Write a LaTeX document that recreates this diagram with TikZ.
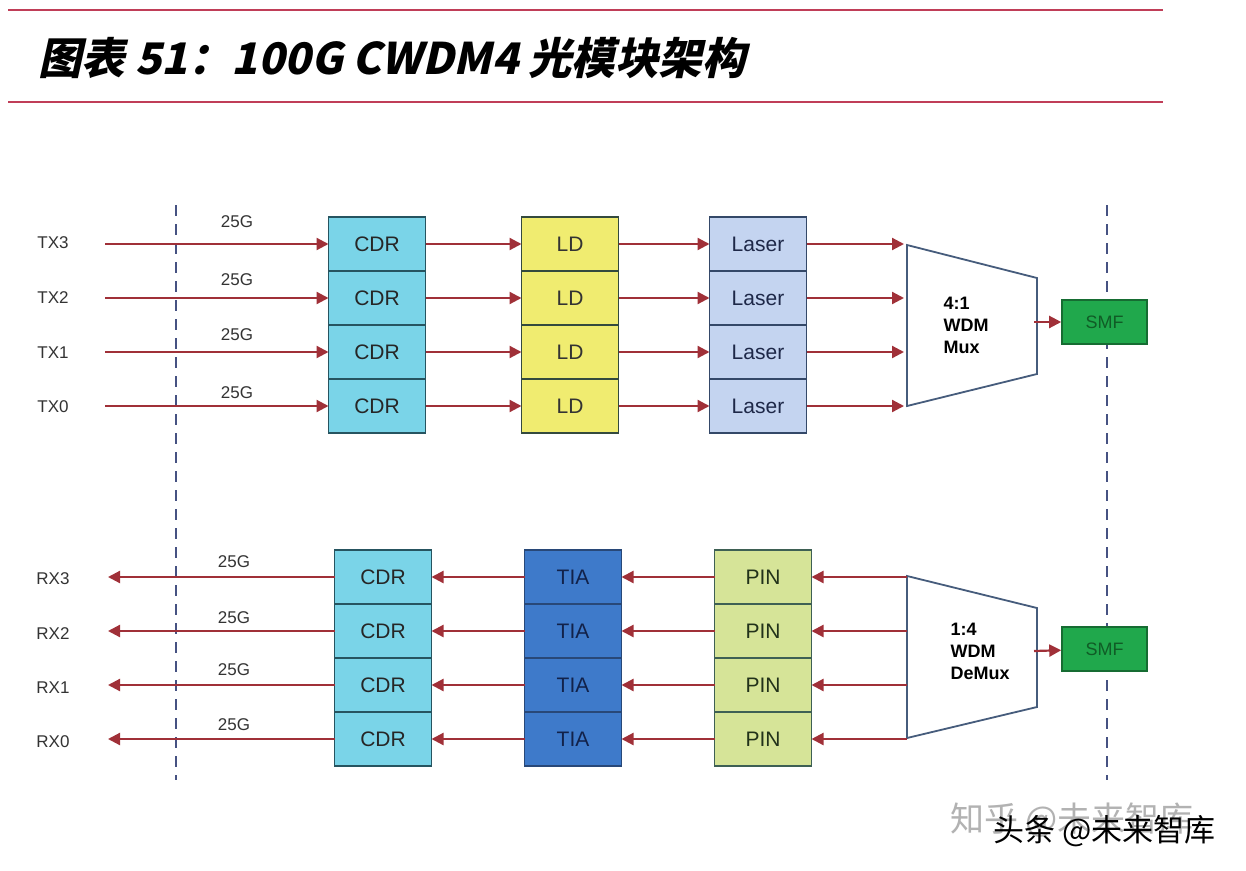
\documentclass[tikz,border=0pt]{standalone}
\usepackage{fontspec}
\setmainfont{Liberation Sans}
\newfontfamily\cjktitle[FakeSlant=0.22]{Noto Sans CJK SC}
\newfontfamily\cjkmark{Noto Sans CJK SC}
\usepackage{xcolor}
\usepackage{tikz}
\usetikzlibrary{arrows.meta,positioning}
\definecolor{sigred}{RGB}{160,48,56}
\definecolor{rulered}{RGB}{192,62,88}
\definecolor{dashblue}{RGB}{70,82,130}
\definecolor{cdrfill}{RGB}{122,212,232}
\definecolor{cdrline}{RGB}{38,84,96}
\definecolor{ldfill}{RGB}{240,236,112}
\definecolor{ldline}{RGB}{52,74,62}
\definecolor{lasfill}{RGB}{196,212,240}
\definecolor{lasline}{RGB}{52,72,104}
\definecolor{tiafill}{RGB}{62,122,202}
\definecolor{tialine}{RGB}{40,72,120}
\definecolor{pinfill}{RGB}{214,228,152}
\definecolor{pinline}{RGB}{62,96,84}
\definecolor{smffill}{RGB}{32,168,76}
\definecolor{smfline}{RGB}{22,108,50}
\definecolor{smftext}{RGB}{16,92,38}
\definecolor{muxline}{RGB}{70,92,124}
\tikzset{
  sigarrow/.style={-{Triangle[length=12pt,width=12pt]}, line width=2.2pt,
    draw=sigred},
  bounddash/.style={draw=dashblue, line width=1.6pt,
    dash pattern=on 11pt off 8pt},
  titlerule/.style={draw=rulered, line width=2.4pt},
  blockbase/.style={line width=1.8pt, minimum width=97pt,
    minimum height=54pt, inner sep=0pt, outer sep=0pt,
    font=\fontsize{21}{24}\selectfont},
  cdrbox/.style={blockbase, fill=cdrfill, draw=cdrline, text=black!85},
  ldbox/.style={blockbase, fill=ldfill, draw=ldline, text=black!80},
  laserbox/.style={blockbase, fill=lasfill, draw=lasline,
    text={rgb,255:red,30;green,40;blue,72}},
  tiabox/.style={blockbase, fill=tiafill, draw=tialine,
    text={rgb,255:red,18;green,34;blue,74}},
  pinbox/.style={blockbase, fill=pinfill, draw=pinline,
    text={rgb,255:red,34;green,50;blue,26}},
  smfbox/.style={fill=smffill, draw=smfline, line width=1.6pt,
    minimum width=85pt, minimum height=44pt, inner sep=0pt,
    text=smftext, font=\fontsize{18}{20}\selectfont},
  muxshape/.style={draw=muxline, fill=white, line width=1.8pt},
  muxtext/.style={align=left, anchor=west, font=\bfseries\fontsize{18}{22}\selectfont},
  portlabel/.style={font=\fontsize{17}{20}\selectfont, text=black!80},
  ratelabel/.style={font=\fontsize{17}{20}\selectfont, text=black!80}
}
\begin{document}
\begin{tikzpicture}[x=1pt, y=-1pt, node distance=0pt]
  \useasboundingbox[fill=white] (0,0) rectangle (1246,870);

  \draw[titlerule] (8,10) -- (1163,10);
  \draw[titlerule] (8,102) -- (1163,102);
  \node[anchor=west, inner sep=0pt,
    font=\cjktitle\bfseries\fontsize{43.5}{46}\selectfont] (title) at (38,58)
    {图表 51：100G CWDM4 光模块架构};

  % module boundaries
  \coordinate (lbtop) at (176,205);
  \coordinate (lbbot) at (176,780);
  \coordinate (rbtop) at (1107,205);
  \coordinate (rbbot) at (1107,780);
  \draw[bounddash] (lbtop) -- (lbbot);
  \draw[bounddash] (rbtop) -- (rbbot);

  % transmit side
  \node[cdrbox] (tcdr3) at (377,244) {CDR};
  \node[cdrbox, below=of tcdr3] (tcdr2) {CDR};
  \node[cdrbox, below=of tcdr2] (tcdr1) {CDR};
  \node[cdrbox, below=of tcdr1] (tcdr0) {CDR};
  \node[ldbox] (tld3) at (570,244) {LD};
  \node[ldbox, below=of tld3] (tld2) {LD};
  \node[ldbox, below=of tld2] (tld1) {LD};
  \node[ldbox, below=of tld1] (tld0) {LD};
  \node[laserbox] (tlas3) at (758,244) {Laser};
  \node[laserbox, below=of tlas3] (tlas2) {Laser};
  \node[laserbox, below=of tlas2] (tlas1) {Laser};
  \node[laserbox, below=of tlas1] (tlas0) {Laser};

  \coordinate (mxtl) at (907,245);
  \coordinate (mxtr) at (1037,278);
  \coordinate (mxbr) at (1037,374);
  \coordinate (mxbl) at (907,406);
  \draw[muxshape] (mxtl) -- (mxtr) -- (mxbr) -- (mxbl) -- cycle;
  \node[muxtext] (muxlabel) at (940,325) {4:1\\WDM\\Mux};
  \node[smfbox] (tsmf) at (1104.5,322) {SMF};

  \node[portlabel] (txl3) at (53,243) {TX3};
  \node[portlabel] (txl2) at (53,298) {TX2};
  \node[portlabel] (txl1) at (53,353) {TX1};
  \node[portlabel] (txl0) at (53,407) {TX0};
  \node[ratelabel] (txr3) at (237,222) {25G};
  \node[ratelabel] (txr2) at (237,280) {25G};
  \node[ratelabel] (txr1) at (237,335) {25G};
  \node[ratelabel] (txr0) at (237,393) {25G};

  \coordinate (txin) at (105,0);
  \coordinate (mxin) at (904,0);
  \coordinate (mxout) at (1034,322);
  \draw[sigarrow] (txin |- tcdr3) -- (tcdr3);
  \draw[sigarrow] (txin |- tcdr2) -- (tcdr2);
  \draw[sigarrow] (txin |- tcdr1) -- (tcdr1);
  \draw[sigarrow] (txin |- tcdr0) -- (tcdr0);
  \draw[sigarrow] (tcdr3) -- (tld3);
  \draw[sigarrow] (tcdr2) -- (tld2);
  \draw[sigarrow] (tcdr1) -- (tld1);
  \draw[sigarrow] (tcdr0) -- (tld0);
  \draw[sigarrow] (tld3) -- (tlas3);
  \draw[sigarrow] (tld2) -- (tlas2);
  \draw[sigarrow] (tld1) -- (tlas1);
  \draw[sigarrow] (tld0) -- (tlas0);
  \draw[sigarrow] (tlas3) -- (tlas3 -| mxin);
  \draw[sigarrow] (tlas2) -- (tlas2 -| mxin);
  \draw[sigarrow] (tlas1) -- (tlas1 -| mxin);
  \draw[sigarrow] (tlas0) -- (tlas0 -| mxin);
  \draw[sigarrow] (mxout) -- (tsmf);

  % receive side
  \node[cdrbox] (rcdr3) at (383,577) {CDR};
  \node[cdrbox, below=of rcdr3] (rcdr2) {CDR};
  \node[cdrbox, below=of rcdr2] (rcdr1) {CDR};
  \node[cdrbox, below=of rcdr1] (rcdr0) {CDR};
  \node[tiabox] (rtia3) at (573,577) {TIA};
  \node[tiabox, below=of rtia3] (rtia2) {TIA};
  \node[tiabox, below=of rtia2] (rtia1) {TIA};
  \node[tiabox, below=of rtia1] (rtia0) {TIA};
  \node[pinbox] (rpin3) at (763,577) {PIN};
  \node[pinbox, below=of rpin3] (rpin2) {PIN};
  \node[pinbox, below=of rpin2] (rpin1) {PIN};
  \node[pinbox, below=of rpin1] (rpin0) {PIN};

  \coordinate (dmtl) at (907,576);
  \coordinate (dmtr) at (1037,608);
  \coordinate (dmbr) at (1037,707);
  \coordinate (dmbl) at (907,738);
  \draw[muxshape] (dmtl) -- (dmtr) -- (dmbr) -- (dmbl) -- cycle;
  \node[muxtext] (demuxlabel) at (947,651) {1:4\\WDM\\DeMux};
  \node[smfbox] (rsmf) at (1104.5,649) {SMF};

  \node[portlabel] (rxl3) at (53,579) {RX3};
  \node[portlabel] (rxl2) at (53,634) {RX2};
  \node[portlabel] (rxl1) at (53,688) {RX1};
  \node[portlabel] (rxl0) at (53,742) {RX0};
  \node[ratelabel] (rxr3) at (234,562) {25G};
  \node[ratelabel] (rxr2) at (234,618) {25G};
  \node[ratelabel] (rxr1) at (234,670) {25G};
  \node[ratelabel] (rxr0) at (234,725) {25G};

  \coordinate (rxout) at (108,0);
  \coordinate (dmin) at (907,0);
  \coordinate (dmout) at (1034,651);
  \draw[sigarrow] (rcdr3) -- (rxout |- rcdr3);
  \draw[sigarrow] (rcdr2) -- (rxout |- rcdr2);
  \draw[sigarrow] (rcdr1) -- (rxout |- rcdr1);
  \draw[sigarrow] (rcdr0) -- (rxout |- rcdr0);
  \draw[sigarrow] (rtia3) -- (rcdr3);
  \draw[sigarrow] (rtia2) -- (rcdr2);
  \draw[sigarrow] (rtia1) -- (rcdr1);
  \draw[sigarrow] (rtia0) -- (rcdr0);
  \draw[sigarrow] (rpin3) -- (rtia3);
  \draw[sigarrow] (rpin2) -- (rtia2);
  \draw[sigarrow] (rpin1) -- (rtia1);
  \draw[sigarrow] (rpin0) -- (rtia0);
  \draw[sigarrow] (dmin |- rpin3) -- (rpin3);
  \draw[sigarrow] (dmin |- rpin2) -- (rpin2);
  \draw[sigarrow] (dmin |- rpin1) -- (rpin1);
  \draw[sigarrow] (dmin |- rpin0) -- (rpin0);
  \draw[sigarrow] (dmout) -- (rsmf);

  \node[anchor=west, inner sep=0pt, text=black!30,
    font=\cjkmark\fontsize{34}{36}\selectfont] (zhihu) at (950,820)
    {知乎 @未来智库};
  \node[anchor=west, inner sep=0pt, text=black,
    font=\cjkmark\fontsize{31}{34}\selectfont] (toutiao) at (993,831)
    {头条 @未来智库};
\end{tikzpicture}
\end{document}
